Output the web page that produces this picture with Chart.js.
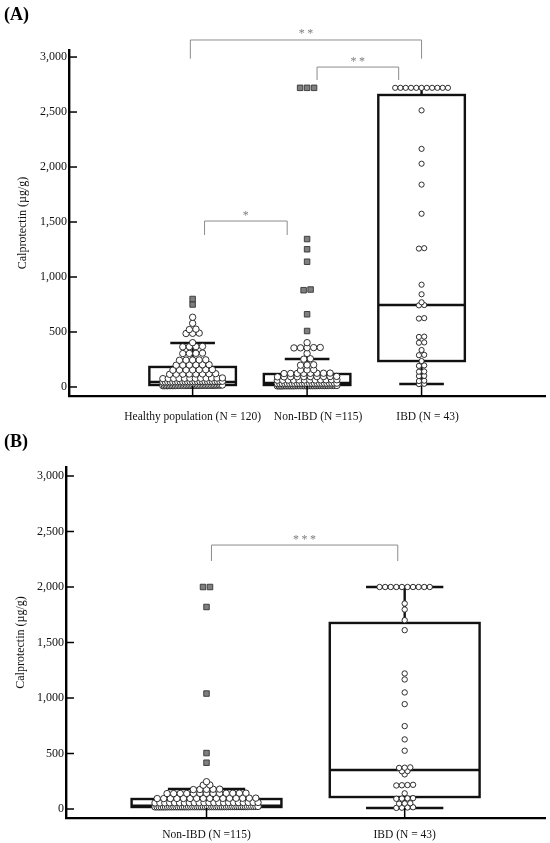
<!DOCTYPE html>
<html><head><meta charset="utf-8">
<script src="https://cdn.jsdelivr.net/npm/chart.js@4.4.1/dist/chart.umd.min.js"></script>
<style>
html,body{margin:0;padding:0;background:#fff;}
#wrap{position:relative;width:550px;height:843px;overflow:hidden;background:#fff;}
canvas{position:absolute;left:0;}
#cA{top:0;width:550px;height:430px;}
#cB{top:430px;width:550px;height:413px;}
</style></head><body>
<div id="wrap"><canvas id="cA" width="550" height="430"></canvas><canvas id="cB" width="550" height="413"></canvas></div>
<script>
// ---------------- DATA ----------------
const Y_TICKS = [0, 500, 1000, 1500, 2000, 2500, 3000];
const Y_TICK_LABELS = ['0', '500', '1,000', '1,500', '2,000', '2,500', '3,000'];
const Y_TITLE = 'Calprotectin (µg/g)';

// Panel A
const catsA = ['Healthy population (N = 120)', 'Non-IBD (N =115)', 'IBD (N = 43)'];
const labelPosA = [1, 2.096, 3.052];
const healthyA = [
  12,14,15,16,13,17,15,14,16,18,12,15,13,17,14,16,15,13,18,14,
  16,15,12,17,14,15,16,13,18,15,14,16,12,17,15,13,16,14,15,
  46,48,50,47,49,51,48,45,50,47,49,48,46,52,48,50,47,49,45,51,48,46,50,49,47,
  77,79,81,78,80,82,79,76,80,78,81,79,
  116,118,120,117,119,121,118,115,
  153,155,157,154,156,158,155,
  198,200,202,199,201,203,
  243,245,247,244,246,
  304,306,308,305,
  365,367,369,366,
  403,
  486,488,490,
  522,526,
  579,
  634
];
const healthyOutA = [800, 750];
const nonIbdA = [
  10,11,12,13,14,12,11,13,12,10,
  14,12,11,13,12,12,11,13,10,14,
  12,11,13,12,12,10,14,11,13,12,
  12,11,13,12,14,
  31,32,33,34,35,33,32,34,33,31,
  35,33,32,34,33,33,32,34,31,35,
  33,32,34,33,35,
  62,63,64,65,66,64,63,65,64,62,66,64,
  92,93,94,95,96,94,93,95,94,92,
  122,123,124,125,126,124,123,125,
  153,155,157,
  198,200,202,
  253,257,
  305,
  355,356,357,358,359,
  403
];
const nonIbdOutA = [2720, 2720, 2720, 1345, 1252, 1139, 886, 880, 661, 509];
const ibdA = [
  2720,2720,2720,2720,2720,2720,2720,2720,2720,2720,2720,
  2515,2165,2030,1840,1575,1262,1258,930,843,770,745,742,626,622,
  458,455,405,402,336,292,289,236,196,192,141,139,101,99,57,54,29,26
];
// box statistics A (Healthy, Non-IBD, IBD)
const q1A = [18, 18, 236];
const medA = [45, 36, 745];
const q3A = [182, 118, 2655];
const loA = [0, 0, 27];
const hiA = [400, 255, 2720];

// Panel B
const catsB = ['Non-IBD (N =115)', 'IBD (N = 43)'];
const labelPosB = [1, 2];
const nonIbdB = [
  19,20,21,22,23,21,20,22,21,19,
  20,21,22,19,23,21,21,20,22,21,
  22,20,21,23,19,21,20,22,21,21,
  21,19,22,20,23,21,22,20,21,21,
  20,22,21,19,23,21,20,22,21,20,
  55,56,57,58,59,57,56,58,57,55,59,57,56,58,57,55,59,56,58,57,57,56,
  94,95,96,97,98,96,95,97,96,94,98,96,95,97,96,94,
  139,140,141,142,143,141,140,142,141,139,143,141,140,
  175,176,177,178,179,
  215,217,
  246
];
const nonIbdOutB = [2000, 2000, 1820, 1040, 504, 417];
const ibdB = [
  2000,2000,2000,2000,2000,2000,2000,2000,2000,2000,
  1851,1797,1701,1611,1221,1167,1050,945,747,627,525,
  375,372,370,342,340,312,218,216,214,212,141,98,96,94,92,52,50,48,16,14,12,10
];
const q1B = [18, 108];
const medB = [30, 351];
const q3B = [90, 1676];
const loB = [3, 9];
const hiB = [180, 2000];

// significance annotations
const bracketsA = [
  {x1: 0.98, x2: 3.0, top: 3155, end: 2985, text: '**'},
  {x1: 2.087, x2: 2.8, top: 2909, end: 2791, text: '**'},
  {x1: 1.104, x2: 1.826, top: 1509, end: 1382, text: '*'}
];
const bracketsB = [
  {x1: 1.025, x2: 1.965, top: 2378, end: 2234, text: '***'}
];

// ---------------- STYLE / LAYOUT ----------------
const FONT = "'Liberation Serif', 'Times New Roman', serif";
const BOX_HALF = 0.378, CAP_HALF = 0.195, SWARM_W = 0.52;

function circleDs(r) {
  return {data: [], pointStyle: 'circle', pointRadius: r, pointHoverRadius: r,
    backgroundColor: '#ffffff', borderColor: '#1a1a1a', borderWidth: 0.9};
}
function squareDs() {
  return {data: [], pointStyle: 'rect', pointRadius: 3.9, pointHoverRadius: 3.9,
    backgroundColor: '#7f7f7f', borderColor: '#333333', borderWidth: 0.9};
}

function overlay(cfg) {
  return {
    id: 'overlay',
    beforeDatasetsDraw(chart) {
      const ctx = chart.ctx, xs = chart.scales.x, ys = chart.scales.y;
      ctx.save();
      ctx.strokeStyle = '#111';
      ctx.lineWidth = 2.4;
      ctx.lineCap = 'butt';
      const ln = (a, b, c, d) => { ctx.beginPath(); ctx.moveTo(a, b); ctx.lineTo(c, d); ctx.stroke(); };
      cfg.box.q1.forEach((_, i) => {
        const c = i + 1;
        const xl = xs.getPixelForValue(c - BOX_HALF), xr = xs.getPixelForValue(c + BOX_HALF);
        const xc = xs.getPixelForValue(c);
        const cl = xs.getPixelForValue(c - CAP_HALF), cr = xs.getPixelForValue(c + CAP_HALF);
        const y1 = ys.getPixelForValue(cfg.box.q1[i]), y3 = ys.getPixelForValue(cfg.box.q3[i]);
        const ym = ys.getPixelForValue(cfg.box.med[i]);
        const ylo = ys.getPixelForValue(cfg.box.lo[i]), yhi = ys.getPixelForValue(cfg.box.hi[i]);
        ln(xc, y3, xc, yhi); ln(cl, yhi, cr, yhi);
        ln(xc, y1, xc, ylo); ln(cl, ylo, cr, ylo);
        ctx.strokeRect(xl, y3, xr - xl, y1 - y3);
        ln(xl, ym, xr, ym);
      });
      ctx.restore();
    },
    afterDraw(chart) {
      const ctx = chart.ctx, xs = chart.scales.x, ys = chart.scales.y, ca = chart.chartArea;
      ctx.save();
      ctx.strokeStyle = '#000';
      ctx.lineWidth = 1.5;
      const ln = (a, b, c, d) => { ctx.beginPath(); ctx.moveTo(a, b); ctx.lineTo(c, d); ctx.stroke(); };
      Y_TICKS.forEach(v => { const y = ys.getPixelForValue(v); ln(ca.left, y, ca.left + 8, y); });
      cfg.cats.forEach((_, i) => { const x = xs.getPixelForValue(i + 1); ln(x, ca.bottom, x, ca.bottom - 10); });
      // brackets
      ctx.strokeStyle = '#8c8c8c';
      ctx.lineWidth = 1;
      ctx.fillStyle = '#7d7d7d';
      ctx.font = '12px ' + FONT;
      ctx.textAlign = 'center';
      ctx.textBaseline = 'alphabetic';
      if ('letterSpacing' in ctx) ctx.letterSpacing = '2.5px';
      cfg.brackets.forEach(b => {
        const xa = xs.getPixelForValue(b.x1), xb = xs.getPixelForValue(b.x2);
        const yt = ys.getPixelForValue(b.top), ye = ys.getPixelForValue(b.end);
        ctx.beginPath(); ctx.moveTo(xa, ye); ctx.lineTo(xa, yt); ctx.lineTo(xb, yt); ctx.lineTo(xb, ye); ctx.stroke();
        ctx.fillText(b.text, (xa + xb) / 2 + 1.2, yt - 2.5);
      });
      if ('letterSpacing' in ctx) ctx.letterSpacing = '0px';
      // panel letter
      ctx.fillStyle = '#000';
      ctx.font = 'bold 18px ' + FONT;
      ctx.textAlign = 'left';
      ctx.fillText(cfg.letter, 4, cfg.letterY);
      ctx.restore();
    }
  };
}

function makeChart(id, cfg) {
  return new Chart(document.getElementById(id), {
    type: 'scatter',
    data: {datasets: cfg.datasets},
    options: {
      responsive: false, animation: false, events: [],
      layout: {padding: {top: cfg.top, right: 3, left: 0, bottom: 0}},
      plugins: {legend: {display: false}, tooltip: {enabled: false}},
      scales: {
        x: {
          type: 'linear', position: 'bottom', min: cfg.xmin, max: cfg.xmax,
          afterBuildTicks: s => { s.ticks = cfg.labelPos.map(p => ({value: p})); },
          afterFit: s => { s.height = cfg.xh; },
          ticks: {callback: (v, i) => cfg.cats[i], font: {family: FONT, size: 11.5},
            color: '#111', padding: cfg.xpad, maxRotation: 0, minRotation: 0, autoSkip: false},
          grid: {display: false, drawTicks: false},
          border: {display: true, color: '#000', width: 2.2}
        },
        y: {
          type: 'linear', min: cfg.ymin, max: cfg.ymax,
          afterBuildTicks: s => { s.ticks = Y_TICKS.map(v => ({value: v})); },
          afterFit: s => { s.width = cfg.yw; },
          ticks: {callback: v => Y_TICK_LABELS[Y_TICKS.indexOf(v)], font: {family: FONT, size: 12},
            color: '#111', padding: 2},
          grid: {display: false, drawTicks: false},
          border: {display: true, color: '#000', width: 2.4},
          title: {display: true, text: Y_TITLE, font: {family: FONT, size: 12}, color: '#111',
            padding: {top: cfg.titlePad, bottom: 0}}
        }
      }
    },
    plugins: [overlay(cfg)]
  });
}

// deterministic dot-plot layout: points of (almost) equal value share a row, spread sideways
function layoutSwarm(chart, values, center, spacing) {
  const xs = chart.scales.x, ys = chart.scales.y;
  const pxPerX = xs.getPixelForValue(1) - xs.getPixelForValue(0);
  const maxW = SWARM_W * pxPerX;
  const pts = values.map(v => ({v, py: ys.getPixelForValue(v)})).sort((a, b) => a.v - b.v);
  const rows = []; let cur = null;
  pts.forEach(p => {
    if (cur && Math.abs(cur[cur.length - 1].py - p.py) <= 1.2) cur.push(p);
    else { cur = [p]; rows.push(cur); }
  });
  const out = [];
  rows.forEach(r => {
    const n = r.length;
    const s = n > 1 ? Math.min(spacing, maxW / (n - 1)) : 0;
    r.forEach((p, i) => out.push({x: center + (i - (n - 1) / 2) * s / pxPerX, y: p.v}));
  });
  return out;
}

// ---------------- CHART A ----------------
const chartA = makeChart('cA', {
  letter: '(A)', letterY: 20, top: 50, xh: 34, yw: 69, titlePad: 15.5, xpad: 14,
  xmin: -0.08, xmax: 4.08, ymin: -82, ymax: 3064,
  cats: catsA, labelPos: labelPosA, brackets: bracketsA,
  box: {q1: q1A, med: medA, q3: q3A, lo: loA, hi: hiA},
  datasets: [circleDs(3.2), circleDs(3.2), circleDs(2.6), squareDs(), squareDs()]
});
chartA.data.datasets[0].data = layoutSwarm(chartA, healthyA, 1, 6.6);
chartA.data.datasets[1].data = layoutSwarm(chartA, nonIbdA, 2, 6.6);
chartA.data.datasets[2].data = layoutSwarm(chartA, ibdA, 3, 5.3);
chartA.data.datasets[3].data = layoutSwarm(chartA, healthyOutA, 1, 7);
chartA.data.datasets[4].data = layoutSwarm(chartA, nonIbdOutA, 2, 7);
chartA.update('none');

// ---------------- CHART B ----------------
const chartB = makeChart('cB', {
  letter: '(B)', letterY: 17, top: 37, xh: 25, yw: 66, titlePad: 14, xpad: 10,
  xmin: 0.291, xmax: 2.709, ymin: -81, ymax: 3081,
  cats: catsB, labelPos: labelPosB, brackets: bracketsB,
  box: {q1: q1B, med: medB, q3: q3B, lo: loB, hi: hiB},
  datasets: [circleDs(3.2), circleDs(2.7), squareDs()]
});
chartB.data.datasets[0].data = layoutSwarm(chartB, nonIbdB, 1, 6.6);
chartB.data.datasets[1].data = layoutSwarm(chartB, ibdB, 2, 5.6);
chartB.data.datasets[2].data = layoutSwarm(chartB, nonIbdOutB, 1, 7);
chartB.update('none');
</script>
</body></html>
